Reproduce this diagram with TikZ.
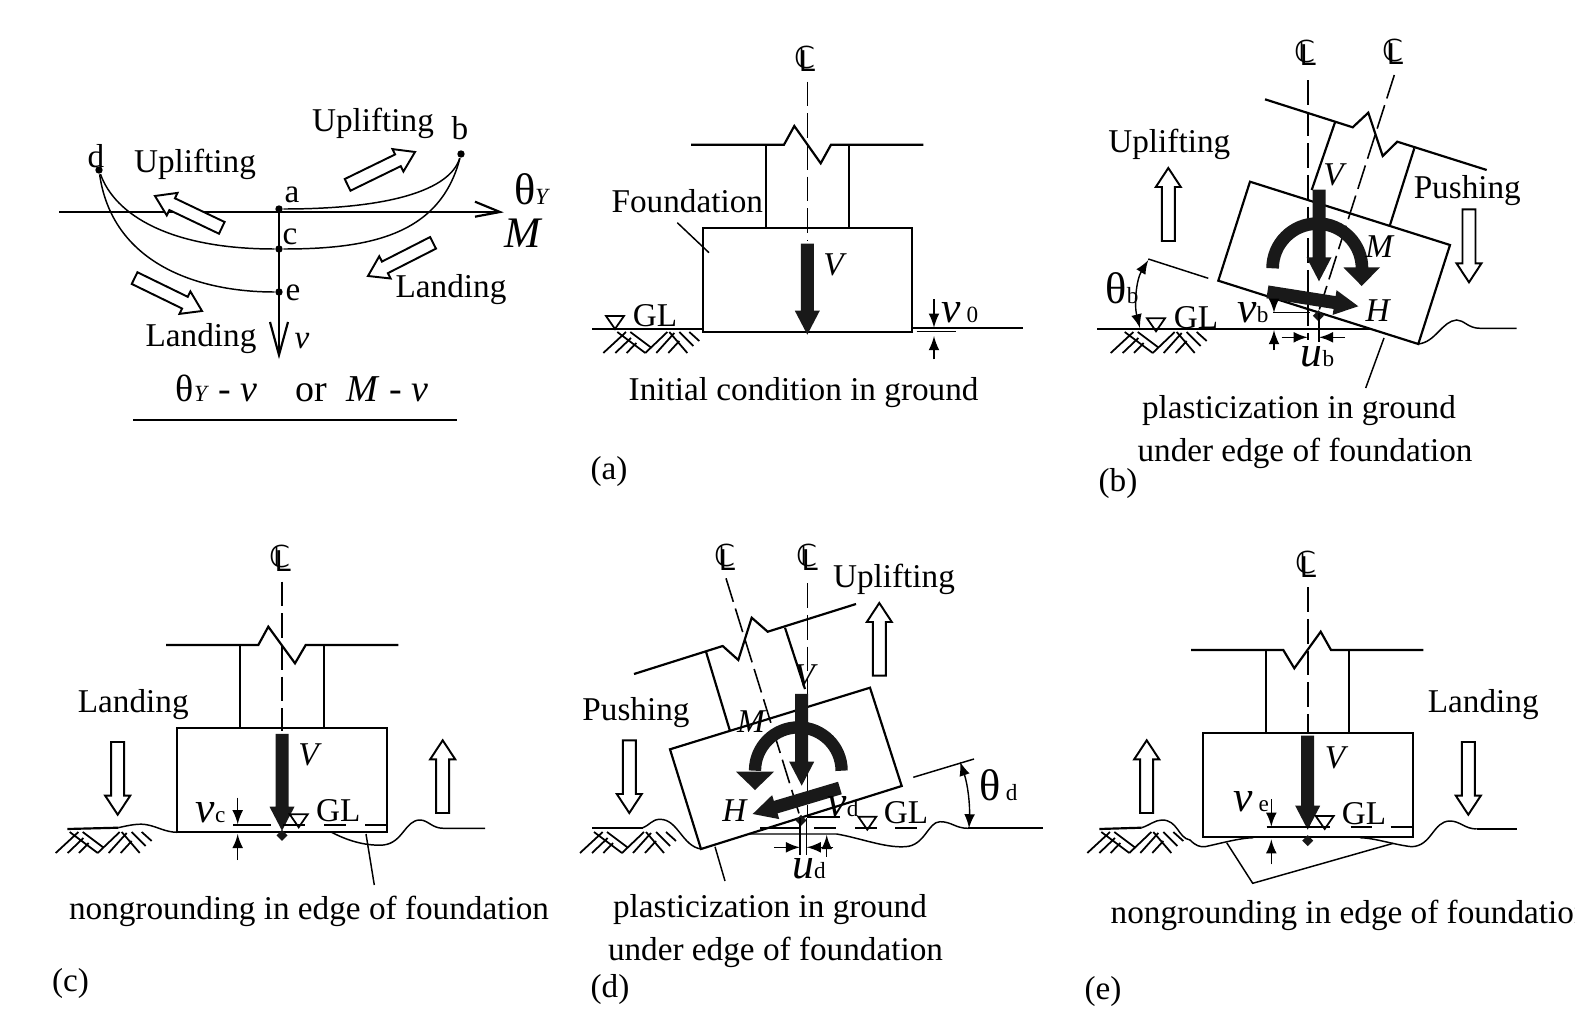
\documentclass[tikz,border=0pt]{standalone}
\usepackage{fontspec}
\setmainfont{Liberation Serif}
\newfontfamily\clfont{DejaVu Sans}
\newfontfamily\clsans{Liberation Sans}
\newcommand{\subt}[1]{{\fontsize{6.6}{8}\selectfont #1}}
\newcommand{\bigit}[1]{{\fontsize{12.4}{13}\selectfont\itshape #1}}
\newcommand{\bigth}{{\fontsize{12.6}{13}\selectfont θ}}
\newcommand{\clsym}{{\clfont ℂ}\kern-4.6pt\raisebox{-1pt}{\clsans L}}
\tikzset{
	every node/.style={inner sep=0,yshift=-0.85pt,font=\fontsize{9.45}{11}\selectfont},
	noshift/.style={yshift=0.85pt},
	lab/.style={anchor=base west,noshift},
	line/.style={line width=0.62pt,line join=miter},
	thin line/.style={line width=0.42pt},
	centerline/.style={line width=0.45pt,dash pattern=on 7pt off 2pt},
	dim/.style={line width=0.4pt,arrows={-latex}},
	cl/.style={noshift,font=\fontsize{8.6}{10}\selectfont},
	hollow/.pic={\draw[line width=0.55pt,fill=white] (0,0) -- (-19,12.5) -- (-19,6.5) -- (-#1,6.5)
		-- (-#1,-6.5) -- (-19,-6.5) -- (-19,-12.5) -- cycle;},
	force/.pic={\fill[black!90] (0,0) -- (-24,12.5) -- (-24,6.5) -- (-#1,6.5)
		-- (-#1,-6.5) -- (-24,-6.5) -- (-24,-12.5) -- cycle;},
	hatch/.pic={\draw[line width=0.5pt]
		(0,0) -- (22.7,-21) (12,0) -- (27.7,-15) (23.3,0) -- (33,-10)
		(14,-21) -- (42,0) (27,-21) -- (47,-6)
		(42,0) -- (64,-21) (53,0) -- (71,-20) (65,0) -- (76,-12)
		(66,-21) -- (84,0) (76,-21) -- (90,-7) (86,-21) -- (96,-12);},
	pivot/.pic={\fill[black!90] (-5.5,0) -- (0,-5.5) -- (5.5,0) -- (0,5.5) -- cycle;},
	gltri/.pic={\draw[line width=0.5pt] (0,0) -- (-9,-13) -- (9,-13) -- cycle;},
	dot/.style={noshift,circle,fill=black,minimum size=2.1pt},
}
\begin{document}
\begin{tikzpicture}[x=0.01cm,y=-0.01cm]
	\useasboundingbox (0,0) rectangle (1575,1027);

	% theta-v diagram
	\node[dot] (a) at (279,209) {};
	\node[dot] (b) at (461,154) {};
	\node[dot] (c) at (279,249) {};
	\node[dot] (d) at (99,170) {};
	\node[dot] (e) at (279,292) {};
	\coordinate (xend) at (500,209);
	\coordinate (xstart) at (59,209);
	\coordinate (vend) at (279,352);
	\draw[line] (xstart) -- (xend);
	\draw[line] (475,201.7) -- (xend) -- (475,216.7);
	\draw[line] (a) -- (vend);
	\draw[line] (270,322) -- (vend) -- (288,322);
	\draw[thin line] (a) .. controls (390,209) and (450,190) .. (b);
	\draw[thin line] (c) .. controls (370,249) and (440,235) .. (b);
	\draw[thin line] (c) .. controls (170,249) and (115,215) .. (d);
	\draw[thin line] (e) .. controls (195,292) and (112,262) .. (d);
	\pic[rotate=26] at (415,149) {hollow=75};
	\pic[rotate=154.5] at (155,193) {hollow=74};
	\pic[rotate=207] at (368,273) {hollow=73};
	\pic[rotate=-26] at (202,308) {hollow=75};
	\node (t1) at (373,120) {Uplifting};
	\node (t2) at (195,161) {Uplifting};
	\node (t3) at (451,287) {Landing};
	\node (t4) at (201,336) {Landing};
	\node (lb) at (460,125) {b};
	\node (ld) at (96,153) {d};
	\node (la) at (292,192) {a};
	\node (lc) at (290,234) {c};
	\node (le) at (293,290) {e};
	\node[lab] (lth) at (513.3,204) {\bigth\textit{\subt{Y}}};
	\node (lm) at (523,230) {\bigit{M}};
	\node (lv) at (302,338) {\textit{v}};
	\node (t5) at (302,385) {\fontsize{10.8}{12}\selectfont θ\textit{\subt{Y}} - \textit{v}\quad or\ \ \textit{M} - \textit{v}};
	\draw[thin line] (133,420) -- (457,420);

	% (a)
	\node[cl] (cla) at (805,59) {\clsym};
	\draw[centerline] (807.7,81.7) -- (807.7,240);
	\draw[line] (691,144.7) -- (784,144.7) -- (794.3,126) -- (820.7,163.3) -- (831,144.7) -- (923.3,144.7);
	\draw[line] (765.7,144.7) -- (765.7,227.7);
	\draw[line] (849,144.7) -- (849,227.7);
	\draw[line] (702.7,227.7) rectangle (912.3,331.7);
	\draw[thin line] (677.3,222.7) -- (709,252.7);
	\pic[rotate=-90] at (807.3,331.7) {force=91};
	\node (Va) at (835,261.7) {\textit{V}};
	\node (ta1) at (687.3,198.3) {Foundation};
	\draw[line] (592.3,329) -- (702.7,329);
	\pic at (615,326) {gltri};
	\node (GLa) at (655,312.7) {GL};
	\pic at (603.3,350) {hatch};
	\draw[line] (912.3,327.7) -- (1022.7,327.7);
	\draw[thin line] (916.7,331.7) -- (956,331.7);
	\draw[dim] (934,299.3) -- (934,327.7);
	\draw[dim] (934,359.3) -- (934,336);
	\node[lab] (v0) at (941,322.7) {\bigit{v}\,\subt{0}};
	\node (capa) at (803.6,390) {Initial condition in ground};
	\node (laba) at (609,469) {(a)};

	% (b)
	\node[cl] (clb1) at (1305.7,53) {\clsym};
	\node[cl] (clb2) at (1393,52) {\clsym};
	\draw[centerline] (1307.7,80) -- (1307.7,340);
	\draw[centerline] (1394.3,75) -- (1318.3,312.7);
	\draw[thin line] (1384,338) -- (1365.7,388);
	\draw[line] (1265,99.3) -- (1352.7,127.3) -- (1368.3,112.7) -- (1382.7,156) -- (1397.3,141.7) -- (1486.7,170);
	\draw[line] (1335,122.3) -- (1311.7,190);
	\draw[line] (1414.3,148.3) -- (1390,225);
	\draw[line] (1250,181.7) -- (1450,245) -- (1418.3,344) -- (1218.3,280.7) -- cycle;
	\pic[rotate=-90] at (1319,278.3) {force=91.6};
	\draw[line width=3.6pt,black!90] (1272.6,268.3) arc[start angle=180,end angle=360,radius=44.7];
	\fill[black!90] (1343.3,267.3) -- (1380,267.3) -- (1361.7,286) -- cycle;
	\pic[rotate=-9] at (1358.3,303.3) {force=92};
	\pic at (1318.3,312.7) {pivot};
	\node (Vb) at (1335,171.7) {\textit{V}};
	\node (Mb) at (1380,244) {\textit{M}};
	\node (Hb) at (1378.3,307.3) {\textit{H}};
	\draw[line] (1097.3,329) -- (1370,329);
	\pic at (1156,328.3) {gltri};
	\node (GLb) at (1196,315) {GL};
	\pic at (1110.7,350) {hatch};
	\draw[thin line] (1418.3,344) .. controls (1436,342) and (1442,321) .. (1456.7,320)
		.. controls (1464,320) and (1468,328.3) .. (1480,328.3) -- (1516.7,328.3);
	\draw[thin line] (1148.3,259) -- (1208.3,278.3);
	\draw[dim,latex-latex] (1140,328.3) .. controls (1134,305) and (1136,280) .. (1148.3,260);
	\node[lab] (thb) at (1105,303.3) {\bigth\subt{b}};
	\draw[thin line] (1273.3,312.7) -- (1310,312.7);
	\draw[dim] (1274,300) -- (1274,312.7);
	\draw[dim] (1274,350) -- (1274,330);
	\node[lab] (vb) at (1236.7,322.7) {\bigit{v}\subt{b}};
	\draw[thin line] (1319,312.7) -- (1319,341.7);
	\draw[dim] (1281.7,337.3) -- (1307.7,337.3);
	\draw[dim] (1345,337.3) -- (1319,337.3);
	\node[lab] (ub) at (1300,366.7) {\bigit{u}\subt{b}};
	\node (tb1) at (1169.3,141.7) {Uplifting};
	\pic[rotate=90] at (1168.3,165) {hollow=73};
	\node (tb2) at (1467.3,187.7) {Pushing};
	\pic[rotate=-90] at (1469,279.3) {hollow=73};
	\node (capb1) at (1299,408) {plasticization in ground};
	\node (capb2) at (1305,450) {under edge of foundation};
	\node (labb) at (1118,481) {(b)};

	% (c)
	\node[cl] (clc) at (280.7,558.3) {\clsym};
	\draw[centerline] (282,581.7) -- (282,731);
	\draw[line] (166,645) -- (258.3,645) -- (268.3,626.7) -- (295,663.3) -- (305.7,645) -- (398.3,645);
	\draw[line] (240.3,645) -- (240.3,727.7);
	\draw[line] (323.7,645) -- (323.7,727.7);
	\draw[line] (177,727.7) rectangle (386.7,832.3);
	\pic[rotate=-90] at (282,827.7) {force=96.7};
	\pic at (282,832.3) {pivot};
	\node (Vc) at (310,751.7) {\textit{V}};
	\foreach \xa/\xb in {233.3/271,283.3/305,324/345.7,365/386.7}
		\draw[line] (\xa,825) -- (\xb,825);
	\pic at (298.7,824.3) {gltri};
	\node (GLc) at (338.3,807.7) {GL};
	\draw[dim] (237.7,797.7) -- (237.7,824.3);
	\draw[dim] (237.7,860) -- (237.7,834);
	\node[lab] (vc) at (195,822.7) {\bigit{v}\subt{c}};
	\draw[line] (67.3,829) -- (118.3,827.7);
	\draw[thin line] (118.3,827.7) .. controls (130,825) and (140,823) .. (148,825) .. controls (158,827) and (165,832) .. (177,832.3);
	\pic at (55.7,850) {hatch};
	\draw[thin line] (331.7,832.3) .. controls (350,842) and (368,846) .. (383.3,845)
		.. controls (403,843) and (405,820) .. (420,820) .. controls (428,820) and (432,828.3) .. (443.3,828.3) -- (485,828.3);
	\draw[thin line] (366,834) -- (374.3,885);
	\node (tc1) at (133.3,701.7) {Landing};
	\pic[rotate=-90] at (117.7,811.7) {hollow=72.7};
	\pic[rotate=90] at (442.7,737.3) {hollow=72.7};
	\node (capc) at (309,908) {nongrounding in edge of foundation};
	\node (labc) at (70.5,981) {(c)};

	% (d)
	\node[cl] (cld1) at (725,557.3) {\clsym};
	\node[cl] (cld2) at (807.7,557.3) {\clsym};
	\draw[centerline] (807.7,583.3) -- (807.7,815);
	\draw[centerline] (726,578.3) -- (800,816.7);
	\draw[thin line] (715,846.7) -- (725,881);
	\draw[line] (634,674) -- (722.7,646) -- (738.3,660) -- (751.7,617.7) -- (767.7,631.7) -- (856,604);
	\draw[line] (706,651.7) -- (730,731);
	\draw[line] (785,627.7) -- (805,689);
	\draw[line] (670,749.3) -- (870,687.7) -- (901.7,786) -- (701,849) -- cycle;
	\pic[rotate=-90] at (801.7,782.7) {force=91.7};
	\draw[line width=3.5pt,black!90] (841.6,770.7) arc[start angle=0,end angle=-180,radius=43.3];
	\fill[black!90] (736,771.7) -- (774,771.7) -- (755,790) -- cycle;
	\pic[rotate=196.6] at (752.7,811) {force=91};
	\pic at (801,817.3) {pivot};
	\node (Vd) at (806,672.7) {\textit{V}};
	\node (Md) at (751.7,718.3) {\textit{M}};
	\node (Hd) at (735,807.3) {\textit{H}};
	\node[lab] (vd) at (826.7,816.7) {\bigit{v}\subt{d}};
	\draw[line] (806.7,817.3) -- (840,817.3);
	\foreach \xa/\xb in {760/800,814.3/836,855/876.7,895/916.7}
		\draw[line] (\xa,827.7) -- (\xb,827.7);
	\pic at (867.3,826.7) {gltri};
	\node (GLd) at (906,810) {GL};
	\draw[thin line] (750,834) -- (836.7,834) .. controls (860,838) and (885,848) .. (905,846.7)
		.. controls (925,846) and (928,821.7) .. (940,821.7) .. controls (952,821.7) and (955,828.3) .. (968.3,828.3);
	\draw[line] (968.3,828.3) -- (1043.3,828.3);
	\draw[thin line] (800,818) -- (800,855);
	\draw[thin line] (806.7,818) -- (806.7,855);
	\draw[dim] (774,847.3) -- (800,847.3);
	\draw[dim] (833.3,847.3) -- (806.7,847.3);
	\draw[dim] (826.7,856.7) -- (826.7,835);
	\node[lab] (ud) at (791.7,878.3) {\bigit{u}\subt{d}};
	\draw[thin line] (913.3,777.3) -- (974,759);
	\draw[dim,latex-latex] (960,761.7) .. controls (968,785) and (970,805) .. (969,828.3);
	\node[lab] (thd) at (978.3,800) {\bigth\,\subt{d}};
	\node (td1) at (894,576.7) {Uplifting};
	\pic[rotate=90] at (879.3,600) {hollow=72.7};
	\node (td2) at (636,709.3) {Pushing};
	\pic[rotate=-90] at (629.3,810) {hollow=72.7};
	\draw[line] (592.3,827.7) -- (642.7,827.7);
	\draw[thin line] (642.7,827.7) .. controls (650,825) and (652,819.3) .. (660,819.3) .. controls (678,819.3) and (682,846) .. (701,849);
	\pic at (580,850) {hatch};
	\node (capd1) at (770,907) {plasticization in ground};
	\node (capd2) at (775.5,949) {under edge of foundation};
	\node (labd) at (610,987) {(d)};

	% (e)
	\node[cl] (cle) at (1306,564.3) {\clsym};
	\draw[centerline] (1307.7,587.3) -- (1307.7,732.7);
	\draw[line] (1191,650) -- (1283.3,650) -- (1294.3,668.3) -- (1320.7,631.7) -- (1331,650) -- (1423.3,650);
	\draw[line] (1266,650) -- (1266,733.3);
	\draw[line] (1349.3,650) -- (1349.3,733.3);
	\draw[line] (1203.3,733.3) rectangle (1412.7,837.3);
	\pic[rotate=-90] at (1307.7,826.7) {force=94};
	\pic at (1307.7,837.7) {pivot};
	\node (Ve) at (1336.7,755) {\textit{V}};
	\foreach \xa/\xb in {1266.7/1330,1350.7/1371.7,1390.7/1412.7}
		\draw[line] (\xa,827.3) -- (\xb,827.3);
	\pic at (1324.7,826) {gltri};
	\node (GLe) at (1364,810.7) {GL};
	\draw[dim] (1271.3,799.3) -- (1271.3,826.7);
	\draw[dim] (1271.3,864.3) -- (1271.3,839.3);
	\node[lab] (ve) at (1233,811.7) {\bigit{v}\,\subt{e}};
	\draw[line] (1099.3,829) -- (1141.7,827.7);
	\draw[thin line] (1141.7,827.7) .. controls (1150,825) and (1155,820) .. (1162,820)
		.. controls (1178,820) and (1178,838) .. (1190,840) .. controls (1196,846) and (1200,847) .. (1205,846.7)
		.. controls (1222,843) and (1240,838) .. (1253.3,837.7);
	\pic at (1087.3,850) {hatch};
	\draw[thin line] (1360,837.7) .. controls (1375,838) and (1395,845) .. (1411.7,846.7)
		.. controls (1432,846) and (1433,821) .. (1450,821) .. controls (1460,821) and (1465,829) .. (1476.7,829);
	\draw[line] (1476.7,829) -- (1516.7,829);
	\draw[thin line] (1226.7,842.7) -- (1252.7,883.3) -- (1393.3,843.3);
	\node (te1) at (1483.3,701.7) {Landing};
	\pic[rotate=90] at (1146.7,737.3) {hollow=72.7};
	\pic[rotate=-90] at (1468.3,811.7) {hollow=72.7};
	\node[anchor=west] (cape) at (1110,912) {nongrounding in edge of foundation};
	\node (labe) at (1103,989) {(e)};
\end{tikzpicture}
\end{document}
